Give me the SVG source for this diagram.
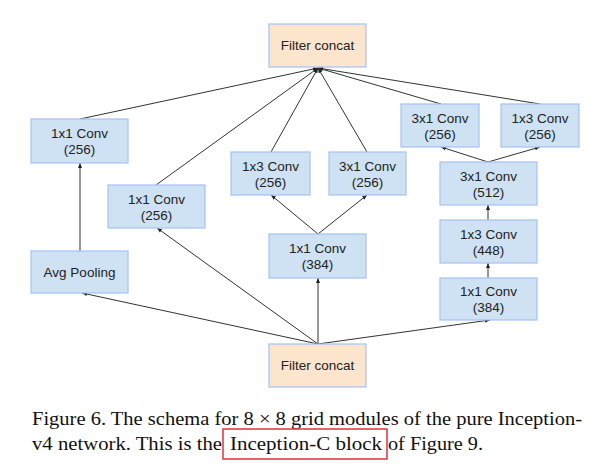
<svg xmlns="http://www.w3.org/2000/svg" width="595" height="472" viewBox="0 0 595 472">
<defs>
<marker id="ah" viewBox="0 0 10 10" refX="10" refY="5" markerWidth="5" markerHeight="5" orient="auto" markerUnits="userSpaceOnUse"><path d="M0,1 L10,5 L0,9 z" fill="#222"/></marker>
<style>
.b{fill:#cfe2f3;stroke:#a4c2f4;stroke-width:1.2}
.o{fill:#fce5cd;stroke:#a4c2f4;stroke-width:1.2}
.t{font-family:"Liberation Sans",Arial,sans-serif;font-size:13.5px;fill:#222;text-anchor:middle}
.c{stroke:#333;stroke-width:1;fill:none}
.a{marker-end:url(#ah)}
.cap{font-family:"Liberation Serif","Times New Roman",serif;font-size:19px;fill:#111}
</style>
</defs>
<rect width="595" height="472" fill="#fff"/>
<g id="connectors">
<line class="c a" x1="80" y1="119" x2="318" y2="68"/>
<line class="c a" x1="156" y1="185" x2="318" y2="68"/>
<line class="c a" x1="271" y1="152" x2="318" y2="68"/>
<line class="c a" x1="367" y1="152" x2="318" y2="68"/>
<line class="c a" x1="441" y1="104" x2="318" y2="68"/>
<line class="c a" x1="540" y1="104" x2="318" y2="68"/>
<line class="c a" x1="488" y1="162" x2="441" y2="147"/>
<line class="c a" x1="488" y1="162" x2="540" y2="147"/>
<line class="c a" x1="488" y1="220" x2="488" y2="205"/>
<line class="c a" x1="488" y1="278" x2="488" y2="263"/>
<line class="c a" x1="318" y1="234" x2="271" y2="195"/>
<line class="c a" x1="318" y1="234" x2="367" y2="195"/>
<line class="c a" x1="80" y1="251" x2="80" y2="163"/>
<line class="c a" x1="318" y1="344" x2="82" y2="293"/>
<line class="c a" x1="318" y1="344" x2="157" y2="228"/>
<line class="c a" x1="318" y1="344" x2="318" y2="278"/>
<line class="c a" x1="318" y1="344" x2="490" y2="320"/>
</g>
<g id="concat-top"><rect class="o" x="269" y="24" width="97" height="43"/><text class="t" x="317.5" y="50">Filter concat</text></g>
<g id="conv1x1-a"><rect class="b" x="31" y="119" width="97" height="44"/><text class="t" x="79.5" y="138">1x1 Conv</text><text class="t" x="79.5" y="154">(256)</text></g>
<g id="conv1x1-b"><rect class="b" x="108" y="185" width="97" height="43"/><text class="t" x="156.5" y="204">1x1 Conv</text><text class="t" x="156.5" y="220">(256)</text></g>
<g id="conv1x3-a"><rect class="b" x="231" y="152" width="79" height="43"/><text class="t" x="270.5" y="171">1x3 Conv</text><text class="t" x="270.5" y="187">(256)</text></g>
<g id="conv3x1-a"><rect class="b" x="329" y="152" width="77" height="43"/><text class="t" x="367.5" y="171">3x1 Conv</text><text class="t" x="367.5" y="187">(256)</text></g>
<g id="conv3x1-b"><rect class="b" x="401" y="104" width="78" height="43"/><text class="t" x="440" y="123">3x1 Conv</text><text class="t" x="440" y="139">(256)</text></g>
<g id="conv1x3-b"><rect class="b" x="501" y="104" width="78" height="43"/><text class="t" x="540" y="123">1x3 Conv</text><text class="t" x="540" y="139">(256)</text></g>
<g id="conv3x1-512"><rect class="b" x="440" y="162" width="97" height="43"/><text class="t" x="488.5" y="181">3x1 Conv</text><text class="t" x="488.5" y="197">(512)</text></g>
<g id="conv1x3-448"><rect class="b" x="440" y="220" width="97" height="43"/><text class="t" x="488.5" y="239">1x3 Conv</text><text class="t" x="488.5" y="255">(448)</text></g>
<g id="conv1x1-384b"><rect class="b" x="440" y="278" width="97" height="42"/><text class="t" x="488.5" y="296">1x1 Conv</text><text class="t" x="488.5" y="312">(384)</text></g>
<g id="conv1x1-384a"><rect class="b" x="269" y="234" width="97" height="44"/><text class="t" x="317.5" y="253">1x1 Conv</text><text class="t" x="317.5" y="269">(384)</text></g>
<g id="avgpool"><rect class="b" x="31" y="251" width="97" height="42"/><text class="t" x="79.5" y="277">Avg Pooling</text></g>
<g id="concat-bottom"><rect class="o" x="269" y="344" width="97" height="43"/><text class="t" x="317.5" y="370">Filter concat</text></g>
<g id="caption">
<text class="cap" x="32" y="425" textLength="550" lengthAdjust="spacingAndGlyphs">Figure 6. The schema for 8 × 8 grid modules of the pure Inception-</text>
<text class="cap" x="32" y="450" textLength="190" lengthAdjust="spacingAndGlyphs">v4 network. This is the</text>
<text class="cap" x="230" y="450" textLength="152" lengthAdjust="spacingAndGlyphs">Inception-C block</text>
<text class="cap" x="388" y="450" textLength="95" lengthAdjust="spacingAndGlyphs">of Figure 9.</text>
<rect x="223" y="429" width="164" height="30" fill="none" stroke="#e3303a" stroke-width="1.5"/>
</g>
</svg>
